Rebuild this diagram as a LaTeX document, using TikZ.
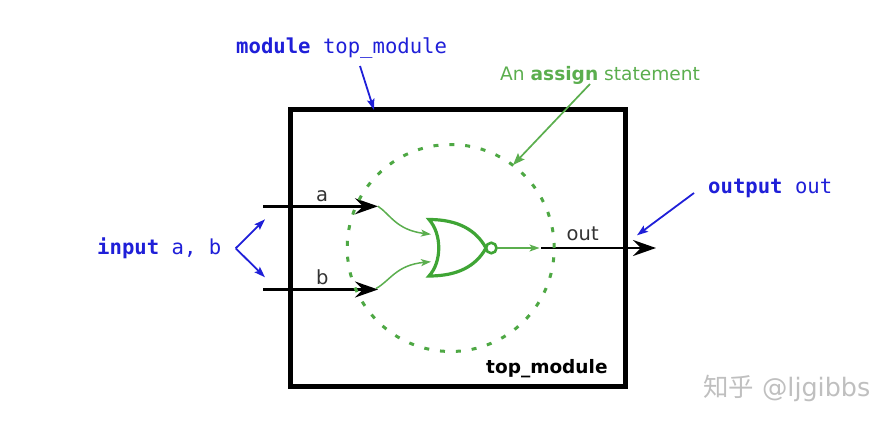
\documentclass[tikz,border=0pt]{standalone}
\usepackage{fontspec}
\setmainfont{DejaVu Sans}
\setmonofont{DejaVu Sans Mono}
\newfontfamily\cjkfont{Noto Sans CJK SC}
\usetikzlibrary{arrows.meta}
\definecolor{gategreen}{HTML}{3FA535}
\definecolor{dotgreen}{HTML}{4EA844}
\definecolor{wiregreen}{HTML}{5BAE4E}
\definecolor{noteblue}{HTML}{1F1FD8}
\tikzset{
  x=1pt,y=-1pt,
  lbl/.style={inner sep=0pt,anchor=base west},
  codelbl/.style={lbl,text=noteblue,font=\fontsize{20.6}{22}\selectfont\ttfamily},
  sig/.style={lbl,text=black!80,font=\fontsize{19.5}{22}\selectfont},
  wire/.style={draw=black,line width=2.8pt,-{Stealth[length=23pt,width=16pt,inset=8pt]}},
  gwire/.style={draw=wiregreen,line width=1.5pt,-{Stealth[length=10pt,width=7pt,inset=2.5pt]}},
  bluearrow/.style={draw=noteblue,line width=1.8pt,-{Stealth[length=11pt,width=7.5pt,inset=2pt]}},
  greenarrow/.style={draw=wiregreen,line width=1.7pt,-{Stealth[length=12pt,width=9pt,inset=2pt]}},
}
\begin{document}
\begin{tikzpicture}
\useasboundingbox (0,0) rectangle (894,428);
% module box
\node[draw=black,line width=5pt,minimum width=334.5pt,minimum height=277.7pt,inner sep=0pt] (box) at (457.75,247.85) {};
% coordinates
\coordinate (aL) at (263,206.3);
\coordinate (aR) at (378,206.3);
\coordinate (bL) at (263,289.5);
\coordinate (bR) at (378,289.5);
\coordinate (oL) at (541,248);
\coordinate (oR) at (656,248);
\coordinate (g1) at (431,234.3);
\coordinate (g2) at (431,261.7);
\coordinate (gO) at (539.5,248);
% wires
\draw[wire] (aL) -- (aR);
\draw[wire] (bL) -- (bR);
\draw[wire] (oL) -- (oR);
% assign circle
\node[circle,draw=dotgreen,line width=3pt,dash pattern=on 5pt off 10.9pt,minimum size=207pt,inner sep=0pt] (assign) at (450.7,248) {};
% gate
\draw[gategreen,line width=3.2pt,line join=miter]
  (429,219.5) .. controls (442,234) and (442,262) .. (429,276)
  .. controls (458,276) and (476,266) .. (486,248)
  .. controls (476,230) and (458,219.5) .. (429,219.5) -- cycle;
\node[circle,draw=gategreen,line width=2.6pt,minimum size=10.5pt,inner sep=0pt,fill=white] (bub) at (491.3,248) {};
% green wires
\draw[gwire] (aR) .. controls (390,214) and (396,230) .. (g1);
\draw[gwire] (bR) ++(-2,-1) coordinate (b2) (b2) .. controls (390,281) and (396,265) .. (g2);
\draw[gwire] (bub) -- (gO);
% labels
\node[sig] (la) at (316,201) {a};
\node[sig] (lb) at (316,284) {b};
\node[sig] (lo) at (566.5,240) {out};
\node[lbl,font=\fontsize{18.5}{22}\selectfont\bfseries,text=black] (tm) at (486,373) {top\_module};
\node[codelbl] (mod) at (236,53) {\textbf{module} top\_module};
\node[codelbl] (inp) at (97,254) {\textbf{input} a, b};
\node[codelbl] (outp) at (708,193) {\textbf{output} out};
\node[lbl,text=wiregreen,font=\fontsize{18.6}{22}\selectfont] (asg) at (500,81) {An \textbf{assign} statement};
% note arrows
\coordinate (m1) at (360,66);
\coordinate (m2) at (374,110);
\draw[bluearrow] (m1) -- (m2);
\coordinate (as1) at (590,84);
\coordinate (as2) at (513,165);
\draw[greenarrow] (as1) -- (as2);
\coordinate (o1) at (694,193);
\coordinate (o2) at (637,235.3);
\draw[bluearrow] (o1) -- (o2);
\coordinate (iv) at (235.7,248.3);
\coordinate (i1) at (265,219.3);
\coordinate (i2) at (265,277.3);
\draw[bluearrow] (iv) -- (i1);
\draw[bluearrow] (iv) -- (i2);
% watermark
\node[lbl,text=black!25,font=\fontsize{25.4}{27}\selectfont] (wm) at (703,396) {{\cjkfont 知乎} @ljgibbs};
\end{tikzpicture}
\end{document}
